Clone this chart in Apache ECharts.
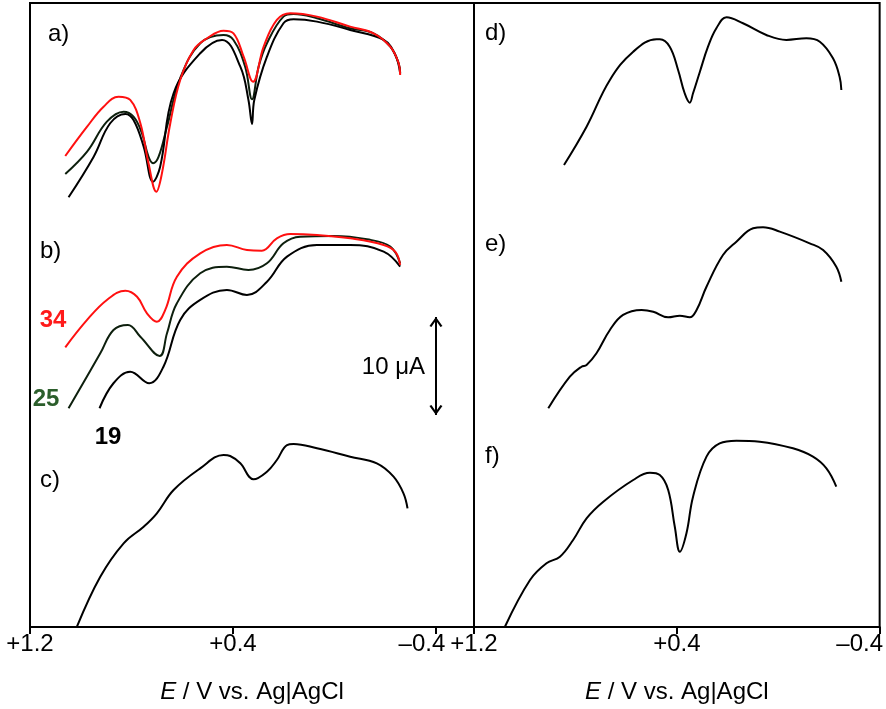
<!DOCTYPE html>
<html>
<head>
<meta charset="utf-8">
<script src="https://cdn.jsdelivr.net/npm/echarts@6/dist/echarts.min.js"></script>
<style>html,body{margin:0;padding:0;background:#fff;}#c{width:886px;height:709px;}</style>
</head>
<body>
<div id="c"></div>
<script>
// x: E / V vs. Ag|AgCl ; y: current in µA (traces offset, axis hidden)
const xTicks = [1.2, 0.4, -0.4];
const labelsLeft = ['a)', 'b)', 'c)'];
const labelsRight = ['d)', 'e)', 'f)'];
const scanNumbers = ['34', '25', '19'];
const scaleBar = 10; // µA
const scaleBarFrom = 21.63;

const aRed = [[1.061,48.06],[0.975,51.05],[0.910,53.09],[0.851,54.11],[0.805,53.78],[0.765,51.40],[0.733,47.31],[0.702,44.42],[0.680,46.29],[0.647,51.40],[0.608,55.82],[0.555,58.88],[0.502,60.07],[0.437,60.85],[0.398,60.58],[0.358,58.19],[0.321,55.64],[0.279,59.21],[0.227,61.94],[0.174,62.62],[0.069,62.28],[-0.062,61.26],[-0.154,60.58],[-0.220,59.21],[-0.253,57.52],[-0.259,56.33]];
const aMid = [[1.061,46.22],[0.975,48.50],[0.897,51.56],[0.831,52.58],[0.792,52.07],[0.759,50.38],[0.733,47.99],[0.715,47.32],[0.693,47.99],[0.660,51.05],[0.608,55.99],[0.529,59.56],[0.437,60.41],[0.398,59.90],[0.352,57.17],[0.325,53.85],[0.299,57.17],[0.266,59.56],[0.201,62.28],[0.161,62.55],[0.069,62.11],[-0.062,61.09],[-0.154,60.58],[-0.220,59.21],[-0.253,57.52],[-0.259,56.50]];
const aLow = [[1.048,43.85],[0.949,47.99],[0.884,51.40],[0.824,52.35],[0.792,51.73],[0.752,49.01],[0.715,45.44],[0.687,46.97],[0.634,54.46],[0.529,58.54],[0.443,59.90],[0.371,57.17],[0.339,53.78],[0.325,51.33],[0.316,53.78],[0.266,58.19],[0.201,61.60],[0.161,62.01],[0.069,61.77],[-0.062,60.92],[-0.194,59.90],[-0.240,58.37],[-0.259,56.50]];
const bRed = [[1.061,28.54],[0.975,31.33],[0.897,33.37],[0.824,34.32],[0.778,33.70],[0.739,32.01],[0.700,31.15],[0.667,32.35],[0.621,35.74],[0.529,38.13],[0.424,38.98],[0.345,38.47],[0.286,38.40],[0.227,39.66],[0.174,40.10],[0.069,40.00],[-0.062,39.66],[-0.194,38.98],[-0.240,38.27],[-0.259,36.94]];
const bMid = [[1.048,22.32],[0.923,27.93],[0.871,30.31],[0.814,30.82],[0.765,29.62],[0.689,27.65],[0.660,29.97],[0.621,33.03],[0.529,36.09],[0.424,36.77],[0.339,36.43],[0.266,37.11],[0.201,39.15],[0.135,39.83],[0.004,39.90],[-0.128,39.56],[-0.220,38.81],[-0.259,37.11]];
const bLow = [[0.926,22.32],[0.871,24.87],[0.805,26.05],[0.730,24.87],[0.674,26.56],[0.608,31.33],[0.529,33.37],[0.424,34.39],[0.345,33.88],[0.266,35.23],[0.187,37.79],[0.069,38.98],[-0.062,38.98],[-0.194,38.30],[-0.259,36.77]];
const cTrace = [[1.015,0.03],[0.923,5.13],[0.831,8.54],[0.752,10.23],[0.700,11.60],[0.634,13.98],[0.529,16.19],[0.437,17.55],[0.411,17.45],[0.371,16.70],[0.319,15.07],[0.266,15.85],[0.227,17.04],[0.187,18.57],[0.161,18.67],[0.069,18.23],[-0.062,17.38],[-0.167,16.70],[-0.233,15.34],[-0.272,13.64],[-0.288,12.11]];
const dTrace = [[0.845,47.14],[0.756,51.05],[0.664,55.82],[0.572,58.70],[0.480,59.97],[0.467,59.97],[0.428,59.21],[0.395,56.84],[0.369,54.46],[0.349,53.50],[0.336,54.46],[0.309,56.66],[0.277,59.21],[0.244,61.09],[0.204,62.21],[0.139,61.60],[0.047,60.41],[-0.032,59.90],[-0.111,60.07],[-0.164,59.72],[-0.216,58.03],[-0.242,56.15],[-0.249,54.80]];
const eTrace = [[0.907,22.32],[0.822,25.54],[0.776,26.56],[0.756,26.73],[0.717,27.93],[0.664,30.31],[0.612,31.84],[0.539,32.35],[0.493,32.17],[0.434,31.60],[0.388,31.77],[0.349,31.60],[0.322,32.35],[0.283,34.72],[0.218,37.96],[0.165,39.32],[0.099,40.68],[0.060,40.79],[-0.006,40.34],[-0.124,39.15],[-0.177,38.47],[-0.229,36.77],[-0.249,35.23]];
const fTrace = [[1.078,0.03],[0.979,4.80],[0.914,6.50],[0.861,7.17],[0.809,8.88],[0.756,11.09],[0.690,12.79],[0.572,15.00],[0.506,15.74],[0.467,15.51],[0.434,13.98],[0.408,10.23],[0.388,7.68],[0.362,9.56],[0.336,13.30],[0.283,17.38],[0.231,18.74],[0.165,19.01],[0.073,18.91],[-0.058,18.23],[-0.137,17.38],[-0.190,16.19],[-0.229,14.32]];

const FONT = '"Liberation Sans", Arial, sans-serif';
const chart = echarts.init(document.getElementById('c'), null, {renderer: 'canvas'});

function fmtTick(v) {
  const s = v > 0 ? '+' + v.toFixed(1) : '\u2013' + Math.abs(v).toFixed(1);
  if (Math.abs(v + 0.4) < 1e-6) return '{s|' + s + '}';
  return '{n|' + s + '}';
}
function xAxisDef(gridIndex, min, shift) {
  return {
    type: 'value', gridIndex: gridIndex, min: min, max: 1.2, inverse: true,
    name: '{i|E}{n| / V vs. Ag|AgCl}', nameLocation: 'middle', nameGap: 53,
    nameTextStyle: {rich: {
      i: {fontFamily: FONT, fontSize: 24, fontStyle: 'italic', color: '#000'},
      n: {fontFamily: FONT, fontSize: 24, color: '#000'}
    }},
    axisLine: {show: true, onZero: false, lineStyle: {color: '#000', width: 2}},
    axisTick: {show: true, inside: false, length: 7, customValues: xTicks, lineStyle: {color: '#000', width: 2}},
    axisLabel: {
      show: true, customValues: xTicks, margin: 5, formatter: fmtTick,
      rich: {
        n: {fontFamily: FONT, fontSize: 24, color: '#000'},
        s: {fontFamily: FONT, fontSize: 24, color: '#000', padding: [0, shift, 0, 0]}
      }
    },
    splitLine: {show: false}
  };
}
function yAxisDef(gridIndex) {
  return {type: 'value', gridIndex: gridIndex, min: 0, max: 63.67, show: false, splitLine: {show: false}};
}
function line(data, xi, color, extra) {
  return Object.assign({
    type: 'line', data: data, xAxisIndex: xi, yAxisIndex: xi, showSymbol: false, symbol: 'none',
    smooth: 0.4, lineStyle: {color: color, width: 2}, silent: true, animation: false, z: 3
  }, extra || {});
}

// chevron whose tip sits at the centre of its bounding box
const chevron = 'path://M6,-10 L6.01,-10 Z M0,9 L6,0 L12,9 L10.2,10 L6,3.6 L1.8,10 Z';

function txt(x, y, t, opt) {
  return {type: 'text', x: x, y: y, style: Object.assign({
    text: t, font: '24px ' + FONT, fill: '#000', align: 'left', verticalAlign: 'middle'
  }, opt || {})};
}

chart.setOption({
  animation: false,
  backgroundColor: '#fff',
  grid: [
    {left: 30, right: 412, top: 3, bottom: 82, show: true, borderColor: '#000', borderWidth: 2, backgroundColor: 'transparent'},
    {left: 474, right: 6, top: 3, bottom: 82, show: true, borderColor: '#000', borderWidth: 2, backgroundColor: 'transparent'}
  ],
  xAxis: [xAxisDef(0, -0.55, 28), xAxisDef(1, -0.4, 40)],
  yAxis: [yAxisDef(0), yAxisDef(1)],
  series: [
    line(aMid, 0, '#0d1f0d'),
    line(aLow, 0, '#000'),
    line(aRed, 0, '#ff1010', {z: 4}),
    line(bLow, 0, '#000'),
    line(bMid, 0, '#0d1f0d'),
    line(bRed, 0, '#ff1010', {z: 4}),
    line(cTrace, 0, '#000', {
      markLine: {
        silent: true, animation: false, symbol: [chevron, chevron], symbolSize: [13, 20],
        label: {show: false},
        lineStyle: {color: '#000', width: 2, type: 'solid'},
        data: [[{coord: [-0.4, scaleBarFrom]}, {coord: [-0.4, scaleBarFrom + scaleBar]}]]
      }
    }),
    line(dTrace, 1, '#000'),
    line(eTrace, 1, '#000'),
    line(fTrace, 1, '#000')
  ],
  graphic: [
    txt(48, 34, labelsLeft[0]),
    txt(40, 251, labelsLeft[1]),
    txt(40, 480, labelsLeft[2]),
    txt(485, 33, labelsRight[0]),
    txt(485, 244, labelsRight[1]),
    txt(485, 456, labelsRight[2]),
    txt(53, 320, scanNumbers[0], {font: 'bold 24px ' + FONT, fill: '#ff1a1a', align: 'center'}),
    txt(46, 399, scanNumbers[1], {font: 'bold 24px ' + FONT, fill: '#2b5e2b', align: 'center'}),
    txt(108, 437, scanNumbers[2], {font: 'bold 24px ' + FONT, fill: '#000', align: 'center'}),
    txt(425, 367, scaleBar + ' \u03bcA', {align: 'right'})
  ]
});
</script>
</body>
</html>
